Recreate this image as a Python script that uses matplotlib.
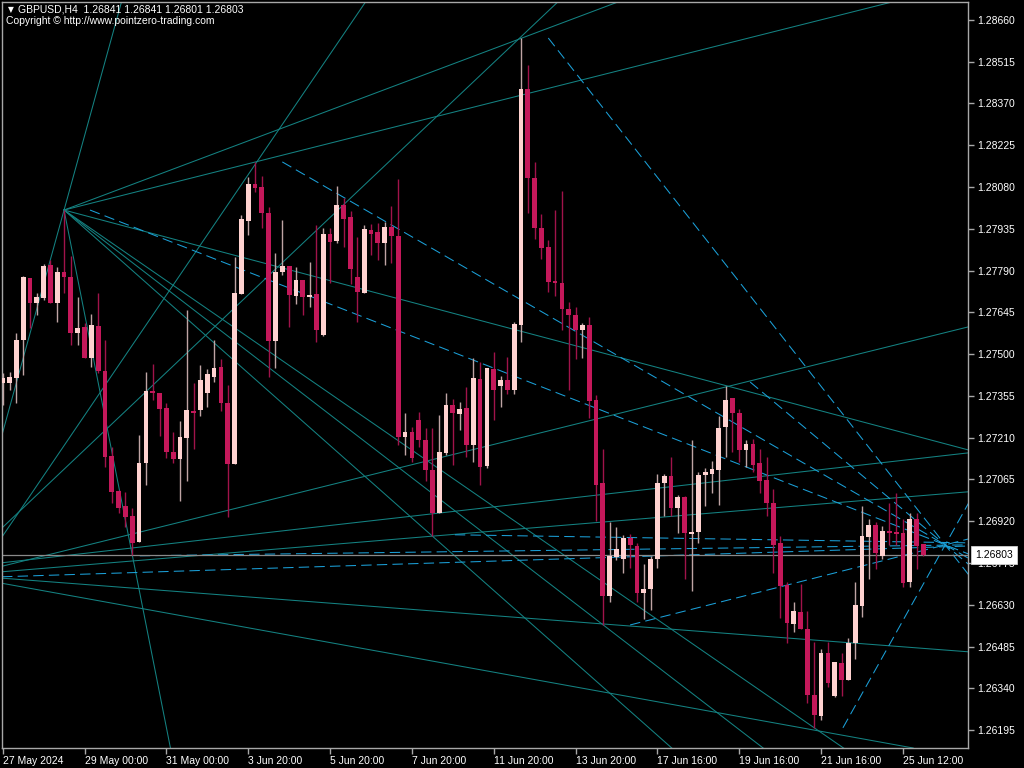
import matplotlib
matplotlib.use("Agg")
import matplotlib.pyplot as plt
import matplotlib.transforms as mtransforms

plt.rcParams["font.family"] = ["Liberation Sans", "DejaVu Sans"]

# ---- GBPUSD H4 candles (bar index = position on chart) ----
opens = [1.27400, 1.27400, 1.27417, 1.27549, 1.27764, 1.27678, 1.27695, 1.27809, 1.27678, 1.27785,
         1.27768, 1.27573, 1.27594, 1.27487, 1.27598, 1.27442, 1.27147, 1.27025, 1.26973, 1.26938,
         1.26848, 1.27122, 1.27372, 1.27365, 1.27313, 1.27161, 1.27136, 1.27209, 1.27303, 1.27306,
         1.27365, 1.27421, 1.27456, 1.27331, 1.27119, 1.27709, 1.27962, 1.28091, 1.28080, 1.27990,
         1.27546, 1.27785, 1.27806, 1.27702, 1.27757, 1.27698, 1.27709, 1.27567, 1.27917, 1.27893,
         1.28018, 1.27976, 1.27768, 1.27712, 1.27931, 1.27924, 1.27886, 1.27941, 1.27910, 1.27213,
         1.27230, 1.27272, 1.27202, 1.27098, 1.26949, 1.27157, 1.27324, 1.27292, 1.27313, 1.27185,
         1.27414, 1.27112, 1.27449, 1.27390, 1.27410, 1.27376, 1.27601, 1.28420, 1.28111, 1.27938,
         1.27872, 1.27754, 1.27747, 1.27657, 1.27636, 1.27584, 1.27601, 1.27341, 1.27053, 1.26661,
         1.26796, 1.26789, 1.26862, 1.26834, 1.26671, 1.26685, 1.26789, 1.27053, 1.27077, 1.26966,
         1.27004, 1.26876, 1.26883, 1.27081, 1.27084, 1.27098, 1.27247, 1.27348, 1.27296, 1.27167,
         1.27188, 1.27122, 1.27063, 1.26984, 1.26845, 1.26699, 1.26564, 1.26605, 1.26546, 1.26317,
         1.26244, 1.26463, 1.26314, 1.26428, 1.26369, 1.26498, 1.26626, 1.26866, 1.26907, 1.26800,
         1.26886, 1.26883, 1.26879, 1.26709, 1.26928, 1.26841]
highs = [1.27435, 1.27438, 1.27573, 1.27771, 1.27764, 1.27712, 1.27813, 1.27827, 1.27803, 1.28000,
         1.27841, 1.27698, 1.27608, 1.27639, 1.27712, 1.27549, 1.27178, 1.27029, 1.27022, 1.26966,
         1.27220, 1.27438, 1.27466, 1.27365, 1.27331, 1.27230, 1.27268, 1.27653, 1.27400, 1.27462,
         1.27449, 1.27549, 1.27483, 1.27393, 1.27837, 1.27983, 1.28115, 1.28167, 1.28118, 1.28011,
         1.27851, 1.27966, 1.27806, 1.27803, 1.27757, 1.27820, 1.27948, 1.27938, 1.27938, 1.28084,
         1.28042, 1.27997, 1.27907, 1.27948, 1.27952, 1.27955, 1.27959, 1.28014, 1.28108, 1.27296,
         1.27247, 1.27299, 1.27244, 1.27244, 1.27289, 1.27365, 1.27344, 1.27334, 1.27386, 1.27487,
         1.27473, 1.27452, 1.27508, 1.27424, 1.27490, 1.27612, 1.28597, 1.28503, 1.28167, 1.27986,
         1.27896, 1.28000, 1.28066, 1.27681, 1.27664, 1.27608, 1.27629, 1.27358, 1.27171, 1.26918,
         1.26900, 1.26873, 1.26876, 1.26845, 1.26772, 1.26800, 1.27084, 1.27084, 1.27143, 1.27011,
         1.27008, 1.27202, 1.27091, 1.27105, 1.27129, 1.27285, 1.27390, 1.27348, 1.27310, 1.27202,
         1.27206, 1.27171, 1.27143, 1.27032, 1.26869, 1.26709, 1.26640, 1.26703, 1.26609, 1.26501,
         1.26477, 1.26501, 1.26432, 1.26463, 1.26515, 1.26709, 1.26973, 1.26928, 1.26918, 1.26904,
         1.26984, 1.27018, 1.26928, 1.26949, 1.26949, 1.26841]
lows = [1.27324, 1.27376, 1.27331, 1.27428, 1.27591, 1.27636, 1.27688, 1.27678, 1.27612, 1.27712,
        1.27532, 1.27532, 1.27487, 1.27456, 1.27435, 1.27109, 1.26984, 1.26949, 1.26900, 1.26803,
        1.26848, 1.27046, 1.27341, 1.27216, 1.27140, 1.27122, 1.26991, 1.27060, 1.27171, 1.27285,
        1.27317, 1.27403, 1.27303, 1.26935, 1.27119, 1.27709, 1.27914, 1.28063, 1.27938, 1.27421,
        1.27452, 1.27775, 1.27594, 1.27674, 1.27636, 1.27664, 1.27542, 1.27563, 1.27747, 1.27886,
        1.27872, 1.27744, 1.27612, 1.27712, 1.27844, 1.27827, 1.27809, 1.27816, 1.27185, 1.27150,
        1.27126, 1.27178, 1.27060, 1.26869, 1.26949, 1.27150, 1.27115, 1.27237, 1.27143, 1.27126,
        1.27046, 1.27105, 1.27272, 1.27317, 1.27362, 1.27362, 1.27542, 1.27990, 1.27900, 1.27830,
        1.27716, 1.27702, 1.27584, 1.27376, 1.27483, 1.27487, 1.27279, 1.26921, 1.26560, 1.26640,
        1.26786, 1.26741, 1.26758, 1.26640, 1.26581, 1.26612, 1.26758, 1.26938, 1.26938, 1.26879,
        1.26720, 1.26678, 1.26845, 1.26973, 1.27018, 1.26977, 1.27143, 1.27161, 1.27126, 1.27109,
        1.27091, 1.27018, 1.26938, 1.26741, 1.26585, 1.26498, 1.26536, 1.26546, 1.26290, 1.26203,
        1.26231, 1.26345, 1.26310, 1.26314, 1.26369, 1.26442, 1.26588, 1.26720, 1.26755, 1.26789,
        1.26838, 1.26838, 1.26692, 1.26692, 1.26755, 1.26801]
closes = [1.27417, 1.27421, 1.27549, 1.27768, 1.27678, 1.27698, 1.27806, 1.27678, 1.27785, 1.27768,
          1.27573, 1.27591, 1.27487, 1.27601, 1.27442, 1.27143, 1.27022, 1.26966, 1.26935, 1.26845,
          1.27122, 1.27372, 1.27365, 1.27310, 1.27161, 1.27136, 1.27213, 1.27306, 1.27296, 1.27410,
          1.27431, 1.27452, 1.27331, 1.27119, 1.27712, 1.27969, 1.28091, 1.28077, 1.27990, 1.27546,
          1.27785, 1.27806, 1.27705, 1.27757, 1.27698, 1.27705, 1.27584, 1.27917, 1.27889, 1.28018,
          1.27969, 1.27796, 1.27716, 1.27934, 1.27917, 1.27886, 1.27941, 1.27910, 1.27213, 1.27230,
          1.27140, 1.27202, 1.27098, 1.26949, 1.27161, 1.27324, 1.27296, 1.27310, 1.27185, 1.27417,
          1.27109, 1.27452, 1.27376, 1.27410, 1.27376, 1.27605, 1.28420, 1.28111, 1.27938, 1.27868,
          1.27750, 1.27747, 1.27657, 1.27636, 1.27584, 1.27601, 1.27338, 1.27046, 1.26661, 1.26800,
          1.26824, 1.26862, 1.26838, 1.26671, 1.26685, 1.26789, 1.27053, 1.27077, 1.26966, 1.27004,
          1.26879, 1.26883, 1.27081, 1.27091, 1.27102, 1.27244, 1.27341, 1.27296, 1.27167, 1.27188,
          1.27115, 1.27060, 1.26984, 1.26838, 1.26696, 1.26567, 1.26609, 1.26546, 1.26317, 1.26248,
          1.26463, 1.26359, 1.26432, 1.26369, 1.26498, 1.26630, 1.26869, 1.26907, 1.26810, 1.26886,
          1.26879, 1.26876, 1.26706, 1.26928, 1.26834, 1.26803]

last_price = 1.26803

# axis labels
price_ticks = [1.26195, 1.26340, 1.26485, 1.26630, 1.26775, 1.26920, 1.27065, 1.27210, 1.27355,
               1.27500, 1.27645, 1.27790, 1.27935, 1.28080, 1.28225, 1.28370, 1.28515, 1.28660]
time_tick_bars = [0, 12, 24, 36, 48, 60, 72, 84, 96, 108, 120, 132]
time_tick_labels = ["27 May 2024", "29 May 00:00", "31 May 00:00", "3 Jun 20:00", "5 Jun 20:00",
                    "7 Jun 20:00", "11 Jun 20:00", "13 Jun 20:00", "17 Jun 16:00", "19 Jun 16:00",
                    "21 Jun 16:00", "25 Jun 12:00"]

# ---- trendline anchors (bar, price) ----
fan_point = (9, 1.28000)
fan_targets = [(90.2, 1.28722), (130.4, 1.28722), (141.5, 1.27168), (111.5, 1.26133),
               (119.0, 1.26203), (98.1, 1.26133), (19.0, 1.26803)]
teal_lines = [((9, 1.28000), (17.5, 1.28729)),
              ((-0.4, 1.26723), (141.5, 1.26467)),
              ((-0.4, 1.26706), (133.5, 1.26133)),
              ((-0.4, 1.26855), (53.4, 1.28729)),
              ((-0.4, 1.26890), (81.7, 1.28729)),
              ((-0.4, 1.26762), (141.5, 1.27594)),
              ((-0.4, 1.26775), (141.5, 1.27157)),
              ((-0.4, 1.26744), (141.5, 1.27022))]
hub = (138.2, 1.26838)
dash_starts = [(80.0, 1.28597), (12.8, 1.28000), (41.0, 1.28167), (109.6, 1.27403),
               (123.2, 1.26203), (92.0, 1.26560)]
dash_flat = [((-0.4, 1.26727), (141.5, 1.26834)),
             ((20.1, 1.26800), (141.5, 1.26838)),
             ((66.3, 1.26873), (141.5, 1.26845))]

BG = "black"
BULL, BEAR = "#ffd2d0", "#c4185a"
BULL_WICK, BEAR_WICK = "#bfa4a4", "#a0134a"
TEAL = "#148282"
DASH = "#1ba0d8"
FRAME = "#a8a8a8"


def ray(ax, p0, p1, **kw):
    # extend p0 -> p1 well past the right edge
    (x0, y0), (x1, y1) = p0, p1
    k = (y1 - y0) / (x1 - x0)
    ax.plot([x0, 400], [y0, y0 + k * (400 - x0)], **kw)


fig = plt.figure(figsize=(10.24, 7.68), dpi=100, facecolor=BG)
ax = fig.add_axes([2 / 1024, 20 / 768, 966 / 1024, 746 / 768], facecolor=BG)

# trendlines first, candles on top
for a, b in teal_lines:
    ax.axline(a, b, color=TEAL, lw=0.75)
for t in fan_targets:
    ray(ax, fan_point, t, color=TEAL, lw=0.75)
dkw = dict(color=DASH, lw=0.75, dashes=(10, 5))
for s in dash_starts:
    ray(ax, s, hub, **dkw)
ray(ax, dash_flat[1][0], dash_flat[1][1], **dkw)
ray(ax, dash_flat[2][0], dash_flat[2][1], **dkw)
ax.axline(dash_flat[0][0], dash_flat[0][1], **dkw)

ax.axhline(last_price, color="#8a8a8a", lw=0.9)

for i, (o, h, l, c) in enumerate(zip(opens, highs, lows, closes)):
    up = c >= o
    ax.vlines(i, l, h, color=BULL_WICK if up else BEAR_WICK, lw=1.0, zorder=3)
    body = max(abs(c - o), 0.00003)
    ax.bar(i, body, bottom=min(o, c), width=0.7, color=BULL if up else BEAR,
           linewidth=0, zorder=4)

ax.set_xlim(-0.1, 141.54)
ax.set_ylim(1.26133, 1.28722)

for s in ax.spines.values():
    s.set_color(FRAME)
    s.set_linewidth(1)

ax.yaxis.tick_right()
ax.set_yticks(price_ticks)
ax.set_yticklabels([f"{p:.5f}" for p in price_ticks])
ax.set_xticks(time_tick_bars)
ax.set_xticklabels(time_tick_labels)
for lbl in ax.get_xticklabels():
    lbl.set_ha("left")
ax.tick_params(axis="both", colors=FRAME, labelcolor="white", labelsize=7.5,
               direction="out", length=4, width=1)
ax.tick_params(axis="x", pad=1.5)
ax.tick_params(axis="y", pad=2.5)

# current price marker on the scale
trans = mtransforms.blended_transform_factory(ax.transAxes, ax.transData)
ax.text(1.0 + 7 / 966, last_price, f"{last_price:.5f}", transform=trans, ha="left",
        va="center", fontsize=7.5, color="black", zorder=10, clip_on=False,
        bbox=dict(boxstyle="square,pad=0.4", fc="white", ec="#d0d0d0", lw=0.6))

fig.text(8 / 1024, 1 - 10 / 768, "\u25bc", color="white", fontsize=5.5, va="center",
         family="DejaVu Sans")
fig.text(18 / 1024, 1 - 10 / 768, "GBPUSD,H4  1.26841 1.26841 1.26801 1.26803",
         color="white", fontsize=7.5, va="center")
fig.text(6 / 1024, 1 - 21 / 768, "Copyright \u00a9 http://www.pointzero-trading.com",
         color="white", fontsize=7.5, va="center")

fig.savefig("out.png", dpi=100, facecolor=BG)
plt.close(fig)
